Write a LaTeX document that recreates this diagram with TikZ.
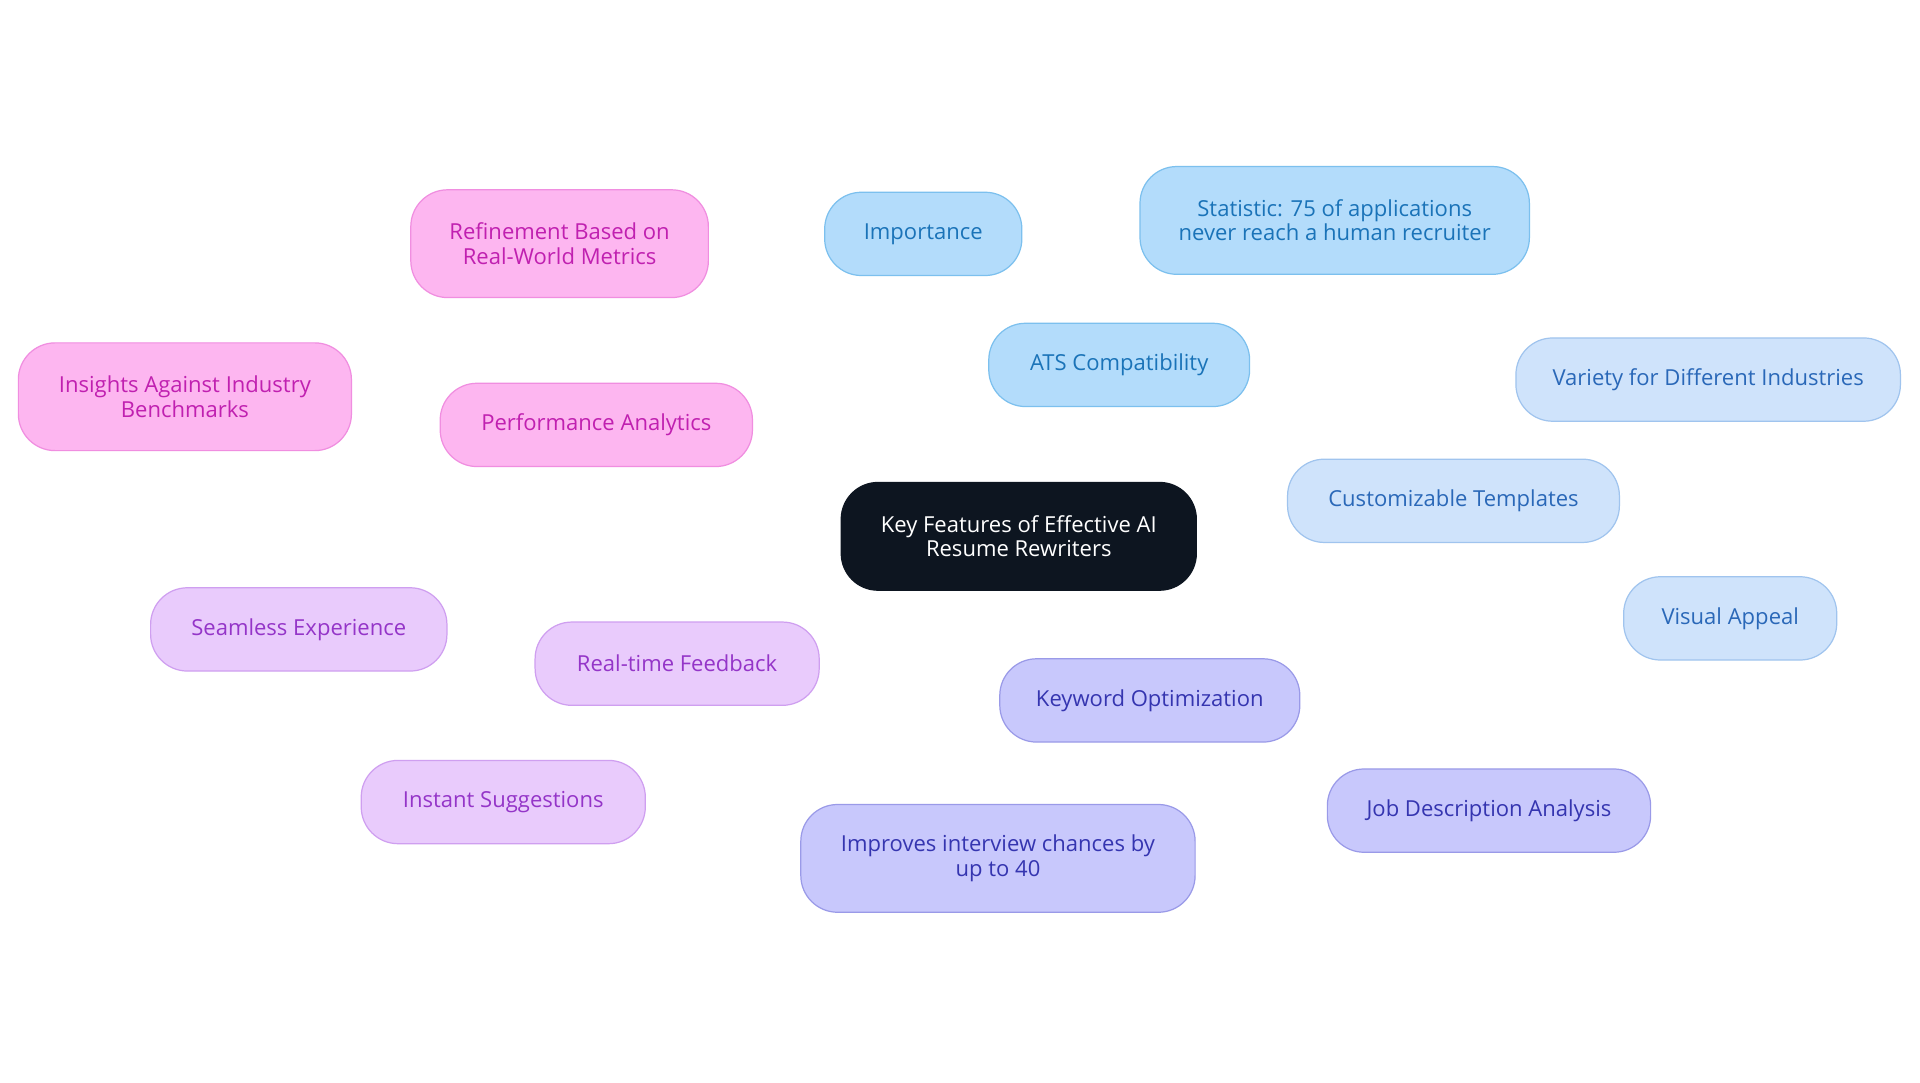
\documentclass[tikz,border=0pt]{standalone}
\usepackage{fontspec}
\setmainfont{Open Sans}
\usetikzlibrary{backgrounds}
\definecolor{cb}{HTML}{0D1520}
\definecolor{aF}{HTML}{B3DCFB}\definecolor{aD}{HTML}{7CC0EE}\definecolor{aT}{HTML}{1A73B8}
\definecolor{bF}{HTML}{CFE3FB}\definecolor{bD}{HTML}{A0C4EE}\definecolor{bT}{HTML}{2A68B8}
\definecolor{cF}{HTML}{C8C8FC}\definecolor{cD}{HTML}{9A9AE8}\definecolor{cT}{HTML}{3535B0}
\definecolor{dF}{HTML}{E9CBFC}\definecolor{dD}{HTML}{CF9FF0}\definecolor{dT}{HTML}{9435C8}
\definecolor{eF}{HTML}{FDB6F0}\definecolor{eD}{HTML}{F08EE0}\definecolor{eT}{HTML}{C020B0}
\tikzset{
 box/.style={rectangle,rounded corners=30pt,inner sep=0pt,align=center,line width=1pt,
   font=\fontsize{18}{20}\selectfont,minimum height=68pt},
 tall/.style={minimum height=88pt},
 ba/.style={box,fill=aF,draw=aD,text=aT}, ea/.style={draw=aD,line width=2.5pt},
 bb/.style={box,fill=bF,draw=bD,text=bT}, eb/.style={draw=bD,line width=2.5pt},
 bc/.style={box,fill=cF,draw=cD,text=cT}, ec/.style={draw=cD,line width=2.5pt},
 bd/.style={box,fill=dF,draw=dD,text=dT}, ed/.style={draw=dD,line width=2.5pt},
 be/.style={box,fill=eF,draw=eD,text=eT}, ee/.style={draw=eD,line width=2.5pt},
}
\begin{document}
\begin{tikzpicture}[x=1pt,y=-1pt]
\useasboundingbox[fill=white] (0,0) rectangle (1568,884);
\node[box,tall,fill=cb,draw=cb,text=white,minimum width=290pt] (c) at (832,438) {Key Features of Effective AI\\Resume Rewriters};
\node[ba,minimum width=213pt] (ats) at (914,298) {ATS Compatibility};
\node[ba,minimum width=161pt] (imp) at (754,191) {Importance};
\node[ba,tall,minimum width=318pt] (stat) at (1090,180) {Statistic: 75 of applications\\never reach a human recruiter};
\node[bb,minimum width=271pt] (cust) at (1187,409) {Customizable Templates};
\node[bb,minimum width=314pt] (var) at (1395,310) {Variety for Different Industries};
\node[bb,minimum width=174pt] (vis) at (1413,505) {Visual Appeal};
\node[bc,minimum width=245pt] (kw) at (939,572) {Keyword Optimization};
\node[bc,minimum width=264pt] (job) at (1216,662) {Job Description Analysis};
\node[bc,tall,minimum width=322pt] (impr) at (815,701) {Improves interview chances by\\up to 40};
\node[bd,minimum width=232pt] (rt) at (553,542) {Real-time Feedback};
\node[bd,minimum width=242pt] (sea) at (244,514) {Seamless Experience};
\node[bd,minimum width=232pt] (ins) at (411,655) {Instant Suggestions};
\node[be,minimum width=255pt] (perf) at (487,347) {Performance Analytics};
\node[be,tall,minimum width=243pt] (ref) at (457,199) {Refinement Based on\\Real-World Metrics};
\node[be,tall,minimum width=272pt] (insi) at (151,324) {Insights Against Industry\\Benchmarks};
\begin{scope}[on background layer]
\draw[ea] (c) -- (ats); \draw[ea] (ats) -- (imp); \draw[ea] (ats) -- (stat);
\draw[eb] (c) -- (cust); \draw[eb] (cust) -- (var); \draw[eb] (cust) -- (vis);
\draw[ec] (c) -- (kw); \draw[ec] (kw) -- (job); \draw[ec] (kw) -- (impr);
\draw[ed] (c) -- (rt); \draw[ed] (rt) -- (sea); \draw[ed] (rt) -- (ins);
\draw[ee] (c) -- (perf); \draw[ee] (perf) -- (ref); \draw[ee] (perf) -- (insi);
\end{scope}
\end{tikzpicture}
\end{document}
